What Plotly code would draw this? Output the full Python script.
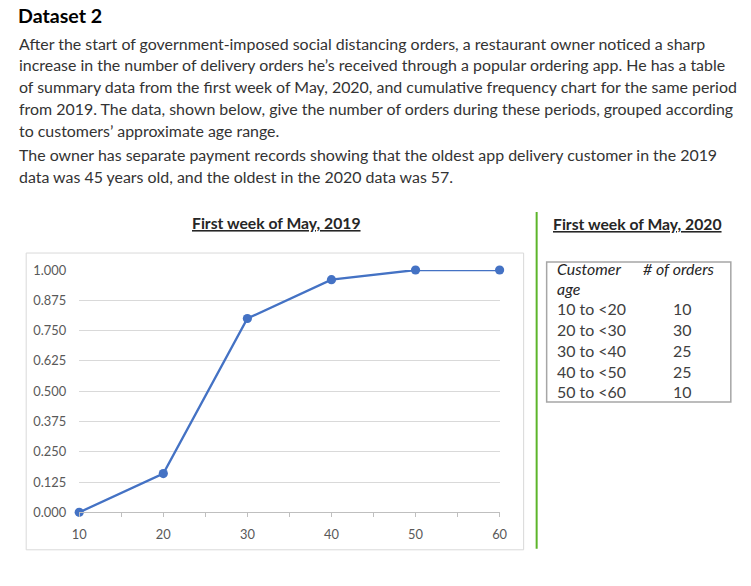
import plotly.graph_objects as go

# 2019 cumulative frequency chart
ages_2019 = [10, 20, 30, 40, 50, 60]
cum_freq_2019 = [0.0, 0.16, 0.80, 0.96, 1.0, 1.0]
x_tick_vals = [10, 15, 20, 25, 30, 35, 40, 45, 50, 55, 60]
x_tick_text = ["10", "", "20", "", "30", "", "40", "", "50", "", "60"]
y_tick_vals = [0, 0.125, 0.25, 0.375, 0.5, 0.625, 0.75, 0.875, 1.0]

# 2020 summary table
age_ranges_2020 = ["10 to <20", "20 to <30", "30 to <40", "40 to <50", "50 to <60"]
orders_2020 = [10, 30, 25, 25, 10]

heading = "Dataset 2"
paragraph_lines = [
    "After the start of government-imposed social distancing orders, a restaurant owner noticed a sharp",
    "increase in the number of delivery orders he\u2019s received through a popular ordering app. He has a table",
    "of summary data from the first week of May, 2020, and cumulative frequency chart for the same period",
    "from 2019. The data, shown below, give the number of orders during these periods, grouped according",
    "to customers\u2019 approximate age range.",
    "The owner has separate payment records showing that the oldest app delivery customer in the 2019",
    "data was 45 years old, and the oldest in the 2020 data was 57.",
]
title_2019 = "First week of May, 2019"
title_2020 = "First week of May, 2020"

W, H = 751, 586
TEXT_FONT = "Lato"
# the photo of the page comes out slightly shrunk and shifted; undo that here
SX, SY, OFF = 751 / 767, 586 / 602, 8


def px(x):
    # target picture pixel -> paper fraction
    return (x / SX - OFF) / W


def py(y):
    return 1 - (y / SY - OFF) / H


def fs(size):
    return size / SX


fig = go.Figure()

fig.add_trace(go.Scatter(
    x=ages_2019, y=cum_freq_2019, mode="lines+markers",
    line=dict(color="#4472C4", width=2.3),
    marker=dict(color="#4472C4", size=9.2),
    cliponaxis=False, showlegend=False, hoverinfo="x+y",
))

axis_font = dict(family=TEXT_FONT, size=fs(12.6), color="#595959")
fig.update_layout(
    xaxis=dict(
        domain=[px(80), px(500)], range=[10, 60],
        tickvals=x_tick_vals, ticktext=x_tick_text,
        ticks="outside", ticklen=4, tickcolor="#bfbfbf",
        showline=True, linecolor="#bfbfbf", linewidth=1,
        showgrid=False, zeroline=False,
        ticklabelstandoff=6, tickfont=axis_font, fixedrange=True,
    ),
    # second copy of the x axis only to draw the upper half of the cross tick marks
    xaxis2=dict(
        domain=[px(80), px(500)], range=[10, 60], overlaying="x", anchor="y", side="bottom",
        tickvals=x_tick_vals, showticklabels=False,
        ticks="inside", ticklen=4, tickcolor="#bfbfbf",
        showline=False, showgrid=False, zeroline=False, fixedrange=True,
    ),
    yaxis=dict(
        domain=[py(512.5), py(270)], range=[0, 1],
        tickvals=y_tick_vals, tickformat=".3f",
        showgrid=True, gridcolor="#d9d9d9", gridwidth=1,
        zeroline=False, showline=False, ticks="",
        ticklabelstandoff=12, tickfont=axis_font, fixedrange=True,
    ),
)

shapes = [
    # chart border
    dict(type="rect", xref="paper", yref="paper",
         x0=px(27), x1=px(524), y0=py(550), y1=py(253),
         line=dict(color="#d9d9d9", width=1)),
    # green divider
    dict(type="line", xref="paper", yref="paper",
         x0=px(537), x1=px(537), y0=py(549), y1=py(212),
         line=dict(color="#5DB52A", width=2)),
    # table border
    dict(type="rect", xref="paper", yref="paper",
         x0=px(547), x1=px(731), y0=py(402), y1=py(262),
         line=dict(color="#a6a6a6", width=1.5)),
]

annotations = [
    dict(text="<b>" + heading + "</b>", x=px(17), y=py(15), xanchor="left", yanchor="middle",
         font=dict(family=TEXT_FONT, size=fs(19.2), color="#000000")),
]
line_y = [43, 64.5, 86.5, 108, 130.5, 154, 176.5]
for txt, yy in zip(paragraph_lines, line_y):
    annotations.append(dict(text=txt, x=px(18), y=py(yy), xanchor="left", yanchor="middle",
                            font=dict(family=TEXT_FONT, size=fs(15.6), color="#333333")))

annotations.append(dict(text="<b><u>" + title_2019 + "</u></b>", x=px(277), y=py(222),
                        xanchor="center", yanchor="middle",
                        font=dict(family=TEXT_FONT, size=fs(15.4), color="#262626")))
annotations.append(dict(text="<b><u>" + title_2020 + "</u></b>", x=px(638), y=py(223),
                        xanchor="center", yanchor="middle",
                        font=dict(family=TEXT_FONT, size=fs(15.4), color="#262626")))

# table header
cell_font = dict(family=TEXT_FONT, size=fs(15.6), color="#262626")
annotations.append(dict(text="<i>Customer</i>", x=px(555), y=py(268), xanchor="left", yanchor="middle",
                        font=cell_font))
annotations.append(dict(text="<i>age</i>", x=px(555), y=py(288), xanchor="left", yanchor="middle",
                        font=cell_font))
annotations.append(dict(text="<i># of orders</i>", x=px(679), y=py(268), xanchor="center", yanchor="middle",
                        font=cell_font))
row_y = [309, 330, 351, 372, 392]
body_font = dict(family=TEXT_FONT, size=fs(15.6), color="#404040")
for rng, n, yy in zip(age_ranges_2020, orders_2020, row_y):
    annotations.append(dict(text=rng, x=px(555), y=py(yy), xanchor="left", yanchor="middle",
                            font=body_font))
    annotations.append(dict(text=str(n), x=px(682), y=py(yy), xanchor="center", yanchor="middle",
                            font=body_font))

for a in annotations:
    a.update(xref="paper", yref="paper", showarrow=False)

fig.update_layout(
    width=W, height=H, autosize=False,
    margin=dict(l=0, r=0, t=0, b=0),
    paper_bgcolor="white", plot_bgcolor="white",
    shapes=shapes, annotations=annotations,
    showlegend=False,
)

page_fix = (
    "document.body.style.margin = '0';"
    "document.body.style.overflow = 'hidden';"
    "document.documentElement.style.overflow = 'hidden';"
)
fig.write_html("out.html", config={"displayModeBar": False}, post_script=page_fix)
